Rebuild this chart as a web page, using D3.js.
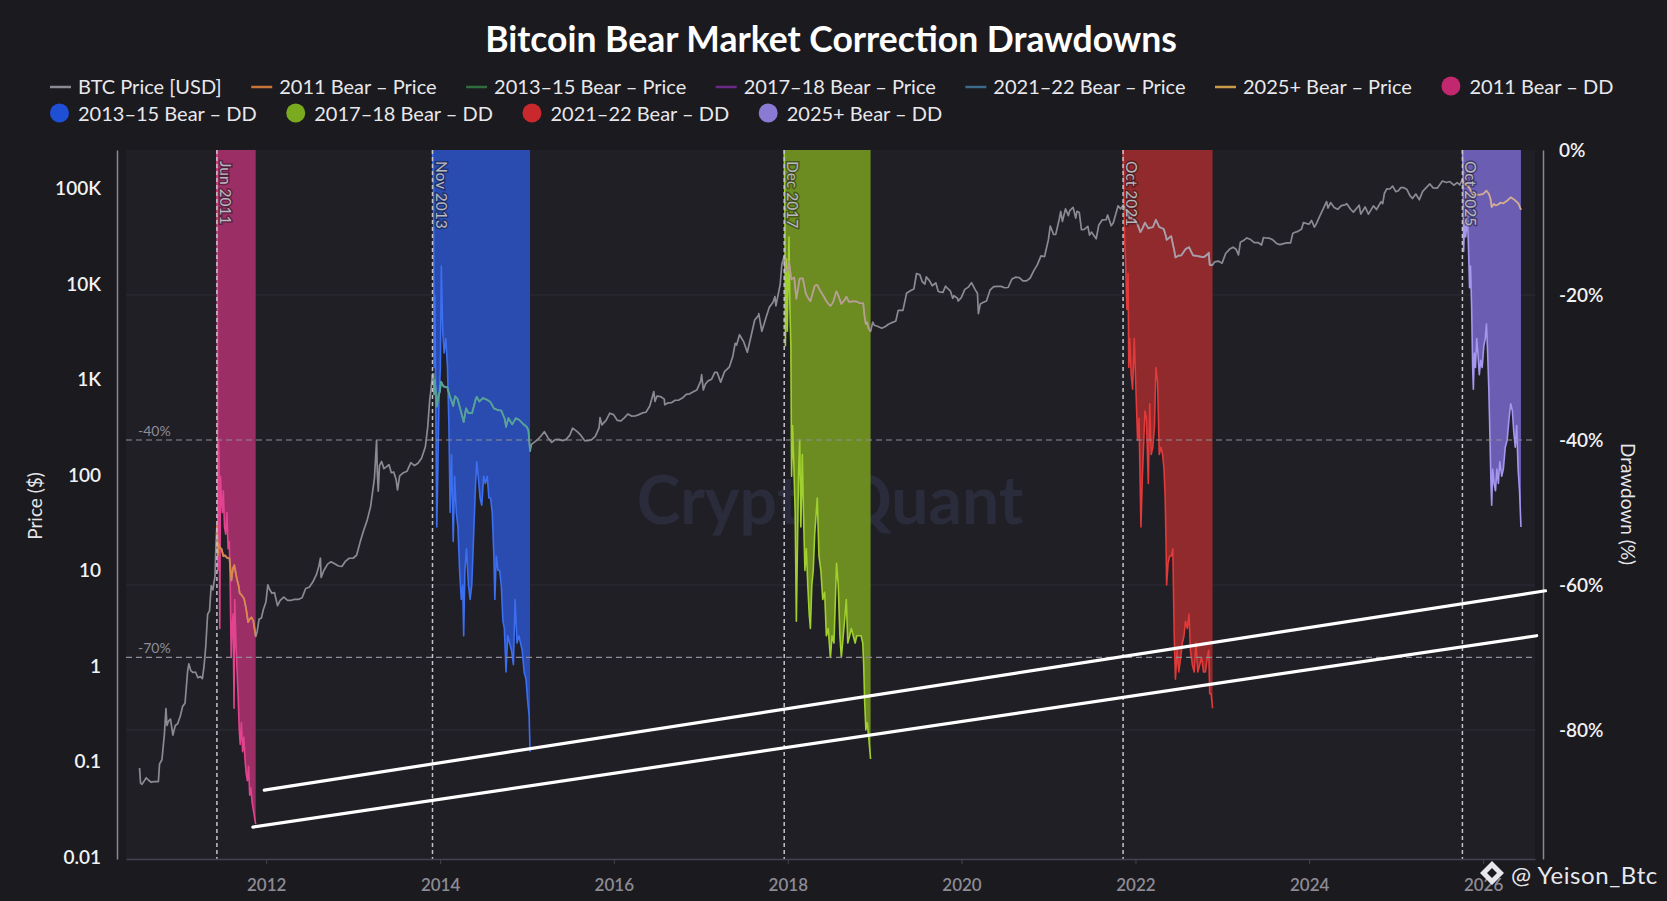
<!DOCTYPE html>
<html>
<head>
<meta charset="utf-8">
<script src="https://cdn.jsdelivr.net/npm/d3@7"></script>
<style>
  body { margin: 0; background: #1b1a1f; }
  svg text { font-family: Lato, "Open Sans", sans-serif; }
</style>
</head>
<body>
<svg id="chart" width="1667" height="901"></svg>
<script>
// BTC daily-ish close (log axis)
var btcPrice = [
  ["2010-07-18",0.086],["2010-07-22",0.06],["2010-07-28",0.058],["2010-08-05",0.062],["2010-08-15",0.068],
  ["2010-08-25",0.064],["2010-09-05",0.061],["2010-09-15",0.062],["2010-09-28",0.062],["2010-10-05",0.062],
  ["2010-10-10",0.095],["2010-10-20",0.105],["2010-10-30",0.19],["2010-11-06",0.36],["2010-11-10",0.24],
  ["2010-11-18",0.27],["2010-11-25",0.28],["2010-12-05",0.19],["2010-12-15",0.24],["2010-12-25",0.25],
  ["2011-01-05",0.30],["2011-01-15",0.38],["2011-01-25",0.41],["2011-02-05",0.89],["2011-02-10",1.06],
  ["2011-02-18",0.90],["2011-02-28",0.86],["2011-03-10",0.87],["2011-03-20",0.76],["2011-03-31",0.78],
  ["2011-04-08",0.74],["2011-04-15",1.0],["2011-04-22",1.6],["2011-04-30",3.5],["2011-05-08",3.8],
  ["2011-05-15",7.0],["2011-05-22",6.3],["2011-05-31",8.7],["2011-06-04",18.5],["2011-06-08",29.6],
  ["2011-06-10",23.0],["2011-06-12",14.5],["2011-06-15",19.2],["2011-06-20",17.5],["2011-06-28",16.8],
  ["2011-07-05",14.2],["2011-07-12",14.5],["2011-07-20",13.7],["2011-07-31",13.4],["2011-08-08",7.9],
  ["2011-08-14",10.5],["2011-08-20",11.4],["2011-08-31",8.2],["2011-09-07",7.0],["2011-09-12",5.8],
  ["2011-09-19",5.6],["2011-09-30",5.1],["2011-10-08",4.1],["2011-10-17",2.9],["2011-10-24",3.1],
  ["2011-10-31",3.25],["2011-11-08",3.0],["2011-11-18",2.05],["2011-11-24",2.3],["2011-12-02",3.1],
  ["2011-12-12",3.2],["2011-12-20",3.9],["2011-12-31",4.7],["2012-01-08",7.1],["2012-01-15",6.4],
  ["2012-01-25",5.8],["2012-02-05",5.9],["2012-02-18",4.3],["2012-02-29",4.9],["2012-03-15",5.3],
  ["2012-03-31",4.9],["2012-04-15",4.9],["2012-04-30",5.0],["2012-05-15",5.0],["2012-05-31",5.2],
  ["2012-06-15",6.5],["2012-06-30",6.7],["2012-07-15",7.6],["2012-07-31",9.2],["2012-08-10",11.3],
  ["2012-08-16",13.5],["2012-08-19",8.5],["2012-08-31",10.1],["2012-09-15",11.7],["2012-09-30",12.4],
  ["2012-10-15",11.8],["2012-10-31",11.2],["2012-11-15",11.1],["2012-11-30",12.6],["2012-12-15",13.5],
  ["2012-12-31",13.5],["2013-01-15",14.5],["2013-01-31",20.4],["2013-02-15",27],["2013-02-28",33.4],
  ["2013-03-15",47],["2013-03-31",93],["2013-04-09",230],["2013-04-12",110],["2013-04-16",68],
  ["2013-04-21",125],["2013-04-30",139],["2013-05-10",117],["2013-05-20",122],["2013-05-31",129],
  ["2013-06-10",106],["2013-06-20",108],["2013-06-30",90],["2013-07-06",70],["2013-07-15",98],
  ["2013-07-31",106],["2013-08-15",110],["2013-08-31",135],["2013-09-15",126],["2013-09-30",133],
  ["2013-10-15",150],["2013-10-31",198],["2013-11-10",320],["2013-11-18",600],["2013-11-24",800],
  ["2013-11-30",1130],["2013-12-04",1150],["2013-12-07",700],["2013-12-10",980],["2013-12-18",520],
  ["2013-12-25",680],["2013-12-31",750],["2014-01-05",950],["2014-01-15",850],["2014-01-31",830],
  ["2014-02-10",680],["2014-02-25",530],["2014-03-05",670],["2014-03-15",630],["2014-03-31",450],
  ["2014-04-10",360],["2014-04-20",500],["2014-04-30",445],["2014-05-15",445],["2014-05-31",630],
  ["2014-06-04",660],["2014-06-15",590],["2014-06-30",640],["2014-07-15",620],["2014-07-31",585],
  ["2014-08-15",500],["2014-08-31",480],["2014-09-15",475],["2014-09-30",385],["2014-10-05",320],
  ["2014-10-15",395],["2014-10-31",340],["2014-11-15",395],["2014-11-30",378],["2014-12-15",345],
  ["2014-12-31",320],["2015-01-07",295],["2015-01-14",178],["2015-01-20",210],["2015-01-31",220],
  ["2015-02-15",235],["2015-02-28",255],["2015-03-15",285],["2015-03-31",245],["2015-04-15",220],
  ["2015-04-30",236],["2015-05-15",237],["2015-05-31",230],["2015-06-15",237],["2015-06-30",262],
  ["2015-07-12",310],["2015-07-31",285],["2015-08-15",262],["2015-08-31",230],["2015-09-15",229],
  ["2015-09-30",236],["2015-10-15",255],["2015-10-31",313],["2015-11-04",400],["2015-11-12",336],
  ["2015-11-30",377],["2015-12-15",445],["2015-12-31",430],["2016-01-15",375],["2016-01-31",370],
  ["2016-02-15",400],["2016-02-29",437],["2016-03-15",415],["2016-03-31",416],["2016-04-15",430],
  ["2016-04-30",448],["2016-05-15",455],["2016-05-31",530],["2016-06-17",750],["2016-06-22",590],
  ["2016-06-30",670],["2016-07-15",665],["2016-07-31",625],["2016-08-02",545],["2016-08-15",570],
  ["2016-08-31",575],["2016-09-15",608],["2016-09-30",610],["2016-10-15",640],["2016-10-31",700],
  ["2016-11-15",710],["2016-11-30",745],["2016-12-15",780],["2016-12-31",965],["2017-01-04",1130],
  ["2017-01-11",780],["2017-01-20",900],["2017-01-31",970],["2017-02-15",1010],["2017-02-28",1190],
  ["2017-03-10",1190],["2017-03-25",940],["2017-04-10",1210],["2017-04-30",1350],["2017-05-15",1750],
  ["2017-05-25",2400],["2017-05-31",2300],["2017-06-12",2950],["2017-06-30",2480],["2017-07-15",1930],
  ["2017-07-31",2875],["2017-08-15",4200],["2017-08-31",4700],["2017-09-01",4900],["2017-09-14",3200],
  ["2017-09-30",4340],["2017-10-15",5700],["2017-10-31",6450],["2017-11-08",7400],["2017-11-12",5900],
  ["2017-11-30",9900],["2017-12-07",16000],["2017-12-17",19500],["2017-12-22",13800],["2017-12-31",14000],
  ["2018-01-06",17200],["2018-01-16",11200],["2018-01-28",11700],["2018-02-06",7000],["2018-02-20",11400],
  ["2018-03-05",11500],["2018-03-18",7900],["2018-03-31",6900],["2018-04-06",6600],["2018-04-24",9600],
  ["2018-05-05",9800],["2018-05-20",8300],["2018-05-31",7500],["2018-06-15",6450],["2018-06-29",5900],
  ["2018-07-10",6400],["2018-07-24",8400],["2018-07-31",7750],["2018-08-14",6200],["2018-08-31",7000],
  ["2018-09-04",7400],["2018-09-15",6500],["2018-09-30",6600],["2018-10-15",6600],["2018-10-31",6300],
  ["2018-11-14",6300],["2018-11-20",4500],["2018-11-25",3800],["2018-11-30",4000],["2018-12-07",3400],
  ["2018-12-15",3200],["2018-12-24",4000],["2018-12-31",3700],["2019-01-15",3600],["2019-01-31",3450],
  ["2019-02-15",3600],["2019-02-28",3800],["2019-03-15",3950],["2019-03-31",4100],["2019-04-10",5300],
  ["2019-04-30",5300],["2019-05-15",8000],["2019-05-31",8500],["2019-06-15",8900],["2019-06-26",12900],
  ["2019-07-10",12500],["2019-07-20",10600],["2019-07-31",10000],["2019-08-06",11900],["2019-08-20",10800],
  ["2019-08-31",9600],["2019-09-15",10300],["2019-09-25",8400],["2019-09-30",8300],["2019-10-15",8200],
  ["2019-10-26",9500],["2019-10-31",9200],["2019-11-15",8500],["2019-11-25",7100],["2019-11-30",7550],
  ["2019-12-15",7100],["2019-12-18",6640],["2019-12-31",7200],["2020-01-15",8800],["2020-01-31",9350],
  ["2020-02-12",10350],["2020-02-28",8700],["2020-03-08",8000],["2020-03-12",4900],["2020-03-20",6200],
  ["2020-03-31",6400],["2020-04-15",6650],["2020-04-30",8650],["2020-05-15",9400],["2020-05-31",9450],
  ["2020-06-15",9450],["2020-06-30",9150],["2020-07-15",9200],["2020-07-31",11300],["2020-08-15",11800],
  ["2020-08-31",11700],["2020-09-15",10800],["2020-09-30",10800],["2020-10-15",11500],["2020-10-31",13800],
  ["2020-11-15",16000],["2020-11-30",19700],["2020-12-15",19400],["2020-12-31",29000],["2021-01-08",40500],
  ["2021-01-22",33000],["2021-01-31",33100],["2021-02-15",48000],["2021-02-21",57500],["2021-02-28",45200],
  ["2021-03-13",61200],["2021-03-25",52000],["2021-03-31",58800],["2021-04-14",63500],["2021-04-25",49000],
  ["2021-04-30",57700],["2021-05-10",56000],["2021-05-19",37000],["2021-05-31",37300],["2021-06-15",40200],
  ["2021-06-22",32500],["2021-06-30",35000],["2021-07-20",29800],["2021-07-31",41500],["2021-08-15",47000],
  ["2021-08-31",47100],["2021-09-06",52700],["2021-09-21",40700],["2021-09-30",43800],["2021-10-20",65900],
  ["2021-10-31",61300],["2021-11-10",67500],["2021-11-20",59700],["2021-11-30",57000],["2021-12-04",49400],
  ["2021-12-15",48900],["2021-12-31",46300],["2022-01-10",41800],["2022-01-22",35000],["2022-01-31",38500],
  ["2022-02-10",44000],["2022-02-24",38300],["2022-03-05",39000],["2022-03-15",39300],["2022-03-28",47100],
  ["2022-04-11",39500],["2022-04-30",37700],["2022-05-10",31000],["2022-05-12",29000],["2022-05-31",31800],
  ["2022-06-13",22500],["2022-06-18",19000],["2022-06-30",19800],["2022-07-13",20000],["2022-07-31",23300],
  ["2022-08-14",24300],["2022-08-31",20000],["2022-09-15",19700],["2022-09-30",19400],["2022-10-15",19100],
  ["2022-10-31",20500],["2022-11-05",21300],["2022-11-09",15900],["2022-11-21",15800],["2022-11-30",17100],
  ["2022-12-15",17400],["2022-12-31",16550],["2023-01-15",20900],["2023-01-31",23100],["2023-02-15",24300],
  ["2023-02-28",23100],["2023-03-10",20200],["2023-03-18",27400],["2023-03-31",28500],["2023-04-14",30400],
  ["2023-04-30",29200],["2023-05-15",27200],["2023-05-31",27200],["2023-06-15",25600],["2023-06-23",30700],
  ["2023-06-30",30500],["2023-07-15",30300],["2023-07-31",29200],["2023-08-17",26600],["2023-08-31",25900],
  ["2023-09-15",26500],["2023-09-30",27000],["2023-10-15",27000],["2023-10-24",33900],["2023-10-31",34600],
  ["2023-11-15",35600],["2023-11-30",37700],["2023-12-08",44000],["2023-12-31",42300],["2024-01-11",46300],
  ["2024-01-23",39500],["2024-01-31",42600],["2024-02-15",51800],["2024-02-29",61200],["2024-03-14",73100],
  ["2024-03-20",62500],["2024-03-31",71300],["2024-04-15",63400],["2024-04-30",60600],["2024-05-15",66200],
  ["2024-05-31",67500],["2024-06-07",69300],["2024-06-24",60300],["2024-07-05",56600],["2024-07-29",66800],
  ["2024-08-05",54000],["2024-08-23",64100],["2024-09-06",53900],["2024-09-27",65800],["2024-10-10",60300],
  ["2024-10-29",72700],["2024-11-05",69400],["2024-11-12",88700],["2024-11-22",98900],["2024-12-05",98800],
  ["2024-12-17",106100],["2024-12-30",92700],["2025-01-10",94700],["2025-01-20",102300],["2025-01-31",102400],
  ["2025-02-15",97500],["2025-02-27",84700],["2025-03-10",78500],["2025-03-24",87500],["2025-04-08",76300],
  ["2025-04-22",93400],["2025-05-10",104000],["2025-05-22",111600],["2025-06-05",101500],["2025-06-22",100900],
  ["2025-07-14",119800],["2025-07-31",115700],["2025-08-14",118300],["2025-08-31",108300],["2025-09-14",115300],
  ["2025-09-25",109000],["2025-10-06",124700],["2025-10-10",113200],["2025-10-20",110500],["2025-11-04",101500],
  ["2025-11-21",85000],["2025-12-01",86500],["2025-12-15",86000],["2025-12-31",87500],["2026-01-08",91000],
  ["2026-01-15",95000],["2026-01-25",88000],["2026-02-01",78000],["2026-02-06",64000],["2026-02-15",69000],
  ["2026-02-23",66500],["2026-03-05",68000],["2026-03-15",71000],["2026-03-27",70000],["2026-04-10",74000],
  ["2026-04-27",81000],["2026-05-13",76000],["2026-05-29",70000],["2026-06-09",60000]
];

var bearNames = ["2011", "2013–15", "2017–18", "2021–22", "2025+"];
var bearStart = ["2011-06-08", "2013-11-30", "2017-12-17", "2021-11-10", "2025-10-06"];
var bearEnd = ["2011-11-18", "2015-01-14", "2018-12-15", "2022-11-21", "2026-06-09"];
var peakLabels = ["Jun 2011", "Nov 2013", "Dec 2017", "Oct 2021", "Oct 2025"];

// drawdown from cycle high (%)
var dd2011 = [
  ["2011-06-08",0],["2011-06-10",-22],["2011-06-12",-58],["2011-06-14",-40],["2011-06-17",-42],["2011-06-20",-66],
  ["2011-06-23",-45],["2011-06-27",-48],["2011-07-01",-50],["2011-07-05",-47],["2011-07-10",-52],["2011-07-15",-53],
  ["2011-07-20",-50],["2011-07-25",-55],["2011-07-30",-54],["2011-08-03",-60],["2011-08-07",-70],["2011-08-10",-66],
  ["2011-08-15",-64],["2011-08-19",-77],["2011-08-22",-62],["2011-08-27",-68],["2011-09-01",-72],["2011-09-06",-76],
  ["2011-09-10",-80],["2011-09-14",-82],["2011-09-19",-79],["2011-09-24",-83],["2011-09-29",-81],["2011-10-04",-84],
  ["2011-10-09",-86],["2011-10-14",-87],["2011-10-19",-85],["2011-10-24",-89],["2011-10-29",-88],["2011-11-03",-90],
  ["2011-11-08",-91],["2011-11-13",-92],["2011-11-18",-93]
];
var dd2013 = [
  ["2013-11-30",0],["2013-12-04",-5],["2013-12-07",-30],["2013-12-10",-20],["2013-12-15",-40],["2013-12-18",-52],
  ["2013-12-22",-45],["2013-12-27",-35],["2014-01-02",-30],["2014-01-06",-16],["2014-01-12",-25],["2014-01-18",-28],
  ["2014-01-25",-26],["2014-02-01",-30],["2014-02-07",-38],["2014-02-12",-50],["2014-02-18",-42],["2014-02-25",-54],
  ["2014-03-03",-45],["2014-03-10",-50],["2014-03-17",-52],["2014-03-24",-58],["2014-03-31",-62],["2014-04-06",-60],
  ["2014-04-10",-67],["2014-04-15",-58],["2014-04-22",-55],["2014-04-30",-60],["2014-05-07",-62],["2014-05-14",-60],
  ["2014-05-22",-53],["2014-05-30",-46],["2014-06-04",-43],["2014-06-10",-45],["2014-06-18",-48],["2014-06-25",-49],
  ["2014-07-03",-45],["2014-07-10",-46],["2014-07-18",-45],["2014-07-25",-48],["2014-08-01",-48],["2014-08-08",-50],
  ["2014-08-15",-56],["2014-08-19",-62],["2014-08-25",-56],["2014-09-01",-58],["2014-09-08",-58],["2014-09-15",-60],
  ["2014-09-22",-65],["2014-09-28",-66],["2014-10-05",-72],["2014-10-12",-67],["2014-10-20",-68],["2014-10-28",-69],
  ["2014-11-05",-71],["2014-11-12",-62],["2014-11-20",-68],["2014-11-28",-67],["2014-12-05",-68],["2014-12-12",-69],
  ["2014-12-20",-72],["2014-12-28",-73],["2015-01-04",-76],["2015-01-10",-78],["2015-01-14",-83]
];
var dd2017 = [
  ["2017-12-17",0],["2017-12-20",-8],["2017-12-22",-27],["2017-12-26",-15],["2017-12-30",-25],["2018-01-06",-12],
  ["2018-01-10",-22],["2018-01-14",-27],["2018-01-17",-45],["2018-01-21",-38],["2018-01-26",-43],["2018-02-01",-50],
  ["2018-02-06",-65],["2018-02-10",-56],["2018-02-15",-45],["2018-02-20",-40],["2018-02-25",-52],["2018-03-03",-42],
  ["2018-03-08",-50],["2018-03-14",-58],["2018-03-20",-55],["2018-03-26",-60],["2018-04-01",-64],["2018-04-06",-66],
  ["2018-04-12",-60],["2018-04-18",-58],["2018-04-24",-53],["2018-05-05",-48],["2018-05-12",-56],["2018-05-20",-58],
  ["2018-05-28",-62],["2018-06-05",-61],["2018-06-12",-67],["2018-06-20",-66],["2018-06-29",-70],["2018-07-06",-67],
  ["2018-07-14",-68],["2018-07-20",-62],["2018-07-25",-57],["2018-08-01",-60],["2018-08-08",-67],["2018-08-14",-70],
  ["2018-08-22",-67],["2018-08-30",-64],["2018-09-04",-62],["2018-09-10",-68],["2018-09-18",-67],["2018-09-25",-66],
  ["2018-10-03",-67],["2018-10-11",-68],["2018-10-18",-67],["2018-10-26",-67],["2018-11-05",-67],["2018-11-12",-68],
  ["2018-11-16",-71],["2018-11-20",-76],["2018-11-25",-80],["2018-12-01",-79],["2018-12-07",-81],["2018-12-15",-84]
];
var dd2021 = [
  ["2021-11-10",0],["2021-11-13",-5],["2021-11-16",-12],["2021-11-20",-15],["2021-11-26",-22],["2021-12-01",-17],
  ["2021-12-04",-30],["2021-12-08",-26],["2021-12-14",-31],["2021-12-20",-33],["2021-12-27",-26],["2022-01-03",-33],
  ["2022-01-10",-40],["2022-01-16",-37],["2022-01-22",-48],["2022-01-24",-52],["2022-01-30",-45],["2022-02-05",-40],
  ["2022-02-10",-36],["2022-02-16",-37],["2022-02-24",-46],["2022-03-02",-35],["2022-03-08",-42],["2022-03-15",-41],
  ["2022-03-22",-38],["2022-03-28",-30],["2022-04-04",-32],["2022-04-11",-42],["2022-04-18",-41],["2022-04-25",-42],
  ["2022-05-01",-44],["2022-05-06",-48],["2022-05-10",-55],["2022-05-12",-60],["2022-05-18",-57],["2022-05-25",-56],
  ["2022-06-01",-56],["2022-06-07",-55],["2022-06-13",-67],["2022-06-18",-73],["2022-06-25",-69],["2022-07-02",-72],
  ["2022-07-10",-70],["2022-07-17",-68],["2022-07-24",-67],["2022-07-30",-65],["2022-08-07",-66],["2022-08-14",-64],
  ["2022-08-20",-69],["2022-08-28",-71],["2022-09-05",-72],["2022-09-12",-68],["2022-09-20",-72],["2022-09-28",-71],
  ["2022-10-06",-70],["2022-10-14",-72],["2022-10-22",-72],["2022-10-30",-70],["2022-11-05",-69],["2022-11-09",-75],
  ["2022-11-15",-75],["2022-11-21",-77]
];
var dd2025 = [
  ["2025-10-06",0],["2025-10-09",-3],["2025-10-11",-14],["2025-10-15",-10],["2025-10-20",-12],["2025-10-27",-9],
  ["2025-11-01",-14],["2025-11-05",-19],["2025-11-09",-16],["2025-11-14",-22],["2025-11-18",-30],["2025-11-21",-33],
  ["2025-11-25",-28],["2025-11-30",-30],["2025-12-05",-26],["2025-12-10",-28],["2025-12-16",-31],["2025-12-22",-29],
  ["2025-12-28",-30],["2026-01-04",-27],["2026-01-10",-26],["2026-01-15",-24],["2026-01-20",-28],["2026-01-25",-33],
  ["2026-01-30",-40],["2026-02-03",-46],["2026-02-06",-49],["2026-02-10",-44],["2026-02-16",-46],["2026-02-22",-47],
  ["2026-02-28",-44],["2026-03-06",-46],["2026-03-12",-43],["2026-03-20",-45],["2026-03-27",-44],["2026-04-04",-41],
  ["2026-04-12",-40],["2026-04-20",-37],["2026-04-27",-35],["2026-05-04",-36],["2026-05-10",-39],["2026-05-16",-41],
  ["2026-05-22",-38],["2026-05-28",-44],["2026-06-03",-47],["2026-06-09",-52]
];
var ddSeries = [dd2011, dd2013, dd2017, dd2021, dd2025];

var priceTicks = [0.01, 0.1, 1, 10, 100, 1000, 10000, 100000];
var priceTickLabels = ["0.01", "0.1", "1", "10", "100", "1K", "10K", "100K"];
var ddTicks = [0, -20, -40, -60, -80];
var ddLevels = [-40, -70];
var yearTicks = [2012, 2014, 2016, 2018, 2020, 2022, 2024, 2026];
// hand-drawn support lines (date, drawdown %)
var trendLines = [
  [["2011-12-24", -88.3], ["2026-09-20", -60.8]],
  [["2011-11-06", -93.4], ["2026-08-14", -67.0]]
];

// styles
var ddFill = ["#9c2e66", "#2a4cb0", "#6c8c22", "#912a2c", "#6a5db2"];
var ddStroke = ["#e2438f", "#3c6ef0", "#a0d030", "#e03a3a", "#a596ee"];
var ddDot = ["#c2286f", "#1f4fd4", "#7aaa1e", "#c9282d", "#8a7ad4"];
var bearLegendColor = ["#c8753a", "#2f6e3c", "#6a2a86", "#3b6a8a", "#c89a4a"];
var bearLineColor = ["#e0864a", "#4fa59a", "#b8a08e", "#aa9ca8", "#d4ab98"];
var priceColor = "#8b8a93";

var svg = d3.select("#chart");
var W = 1667, H = 901;
var pL = 126, pR = 1535, pT = 150, pB = 859;
var parse = d3.timeParse("%Y-%m-%d");

var x = d3.scaleTime()
    .domain([parse("2010-05-22"), parse("2026-08-07")])
    .range([pL, pR]);
var yP = d3.scaleLog()
    .domain([0.0096, 253000])
    .range([pB, pT]);
var yD = d3.scaleLinear()
    .domain([-97.8, 0])
    .range([pB, pT]);

svg.append("rect").attr("width", W).attr("height", H).attr("fill", "#1b1a1f");
svg.append("rect")
    .attr("x", pL).attr("y", pT)
    .attr("width", pR - pL).attr("height", pB - pT)
    .attr("fill", "#211f26");

svg.append("defs").append("clipPath").attr("id", "plotClip")
    .append("rect")
    .attr("x", pL).attr("y", pT)
    .attr("width", pR - pL).attr("height", pB - pT);

// grid from the drawdown axis
svg.append("g").selectAll("line")
    .data(ddTicks.filter(function(d) { return d !== 0 && ddLevels.indexOf(d) < 0; }))
    .enter().append("line")
    .attr("x1", pL).attr("x2", pR)
    .attr("y1", function(d) { return yD(d); })
    .attr("y2", function(d) { return yD(d); })
    .attr("stroke", "#2d2c35")
    .attr("stroke-width", 1);

svg.append("text")
    .attr("x", 830).attr("y", 524)
    .attr("text-anchor", "middle")
    .attr("font-size", 66)
    .attr("font-weight", 700)
    .attr("fill", "#2b2c3b")
    .text("CryptoQuant");

// drawdown areas, filled from 0% down to the drawdown
var plotG = svg.append("g").attr("clip-path", "url(#plotClip)");
var ddArea = d3.area()
    .x(function(d) { return x(d.date); })
    .y0(yD(0))
    .y1(function(d) { return yD(d.v); });
var ddLine = d3.line()
    .x(function(d) { return x(d.date); })
    .y(function(d) { return yD(d.v); });

ddSeries.forEach(function(s, i) {
    var pts = s.map(function(d) { return {date: parse(d[0]), v: d[1]}; });
    plotG.append("path").datum(pts)
        .attr("d", ddArea)
        .attr("fill", ddFill[i]);
    plotG.append("path").datum(pts)
        .attr("d", ddLine)
        .attr("fill", "none")
        .attr("stroke", ddStroke[i])
        .attr("stroke-width", 1.6)
        .attr("stroke-linejoin", "round");
});

// -40% / -70% reference levels
ddLevels.forEach(function(lv) {
    svg.append("line")
        .attr("x1", pL).attr("x2", pR)
        .attr("y1", yD(lv)).attr("y2", yD(lv))
        .attr("stroke", "#8e8d96")
        .attr("stroke-width", 1.2)
        .attr("stroke-dasharray", "6,4");
    svg.append("text")
        .attr("x", pL + 12).attr("y", yD(lv) - 4)
        .attr("font-size", 14)
        .attr("fill", "#8e8d96")
        .text(lv + "%");
});

// cycle peak markers
bearStart.forEach(function(d, i) {
    var px = x(parse(d));
    svg.append("line")
        .attr("x1", px).attr("x2", px)
        .attr("y1", pT).attr("y2", pB)
        .attr("stroke", "#c4c3ca")
        .attr("stroke-width", 1.5)
        .attr("stroke-dasharray", "4,3");
    svg.append("text")
        .attr("transform", "translate(" + (px + 3) + "," + (pT + 11) + ") rotate(90)")
        .attr("font-size", 15.5)
        .attr("fill", "#b8b7be")
        .attr("stroke", "rgba(20,20,25,0.45)")
        .attr("stroke-width", 3)
        .attr("paint-order", "stroke")
        .text(peakLabels[i]);
});

// price
var prices = btcPrice.map(function(d) { return {date: parse(d[0]), v: d[1]}; });
var priceLine = d3.line()
    .x(function(d) { return x(d.date); })
    .y(function(d) { return yP(d.v); });

plotG.append("path").datum(prices)
    .attr("d", priceLine)
    .attr("fill", "none")
    .attr("stroke", priceColor)
    .attr("stroke-width", 1.7)
    .attr("stroke-linejoin", "round");

bearStart.forEach(function(d, i) {
    var a = parse(d), b = parse(bearEnd[i]);
    var seg = prices.filter(function(p) { return p.date >= a && p.date <= b; });
    plotG.append("path").datum(seg)
        .attr("d", priceLine)
        .attr("fill", "none")
        .attr("stroke", bearLineColor[i])
        .attr("stroke-width", 1.7)
        .attr("stroke-linejoin", "round");
});

// axes
var axisLeft = svg.append("g")
    .attr("transform", "translate(117,0)")
    .call(d3.axisLeft(yP)
        .tickValues(priceTicks)
        .tickFormat(function(d, i) { return priceTickLabels[i]; })
        .tickSize(0).tickSizeOuter(0).tickPadding(16));
var axisRight = svg.append("g")
    .attr("transform", "translate(1543,0)")
    .call(d3.axisRight(yD)
        .tickValues(ddTicks)
        .tickFormat(function(d) { return d + "%"; })
        .tickSize(0).tickSizeOuter(0).tickPadding(16));
[axisLeft, axisRight].forEach(function(g) {
    g.select(".domain").attr("stroke", "#8a8990").attr("stroke-width", 1.5);
    g.selectAll("text")
        .attr("font-size", 19)
        .attr("font-weight", 600)
        .attr("fill", "#f2f2f4")
        .attr("font-family", "Lato, sans-serif");
});

var axisBottom = svg.append("g")
    .attr("transform", "translate(0," + pB + ")")
    .call(d3.axisBottom(x)
        .tickValues(yearTicks.map(function(y) { return new Date(y, 0, 1); }))
        .tickFormat(d3.timeFormat("%Y"))
        .tickSize(5).tickSizeOuter(0).tickPadding(15));
axisBottom.select(".domain").attr("stroke", "#45434f").attr("stroke-width", 1.5);
axisBottom.selectAll("line").attr("stroke", "#45434f");
axisBottom.selectAll("text")
    .attr("font-size", 17)
    .attr("font-weight", 600)
    .attr("fill", "#8c8b94")
    .attr("font-family", "Lato, sans-serif");

svg.append("text")
    .attr("transform", "translate(42,506) rotate(-90)")
    .attr("text-anchor", "middle")
    .attr("font-size", 19)
    .attr("fill", "#e6e6ea")
    .text("Price ($)");
svg.append("text")
    .attr("transform", "translate(1621,504) rotate(90)")
    .attr("text-anchor", "middle")
    .attr("font-size", 19)
    .attr("fill", "#e6e6ea")
    .text("Drawdown (%)");

// annotation lines
trendLines.forEach(function(tl) {
    svg.append("line")
        .attr("x1", x(parse(tl[0][0]))).attr("y1", yD(tl[0][1]))
        .attr("x2", x(parse(tl[1][0]))).attr("y2", yD(tl[1][1]))
        .attr("stroke", "#ffffff")
        .attr("stroke-width", 3.2)
        .attr("stroke-linecap", "round");
});

// title + legend
svg.append("text")
    .attr("x", 831).attr("y", 52)
    .attr("text-anchor", "middle")
    .attr("font-size", 35.5)
    .attr("font-weight", 700)
    .attr("fill", "#ffffff")
    .text("Bitcoin Bear Market Correction Drawdowns");

var legendItems = [{label: "BTC Price [USD]", kind: "line", color: priceColor}];
bearNames.forEach(function(b, i) {
    legendItems.push({label: b + " Bear – Price", kind: "line", color: bearLegendColor[i]});
});
bearNames.forEach(function(b, i) {
    legendItems.push({label: b + " Bear – DD", kind: "dot", color: ddDot[i]});
});

var legend = svg.append("g");
var lx = 50, ly = 87;
legendItems.forEach(function(it, i) {
    if (i === 7) { lx = 50; ly = 114; }
    var g = legend.append("g").attr("transform", "translate(" + lx + "," + ly + ")");
    if (it.kind === "line") {
        g.append("line").attr("x1", 0).attr("x2", 21).attr("y1", 0).attr("y2", 0)
            .attr("stroke", it.color).attr("stroke-width", 2.5);
    } else {
        g.append("circle").attr("cx", 9.5).attr("cy", -1).attr("r", 9.5).attr("fill", it.color);
    }
    var t = g.append("text")
        .attr("x", 28).attr("y", 7)
        .attr("font-size", 20)
        .attr("fill", "#e8e8ec")
        .text(it.label);
    lx += 28 + t.node().getComputedTextLength() + 29.5;
});

// corner credit
var credit = svg.append("g").attr("transform", "translate(1492,873)");
credit.append("path")
    .attr("d", "M0,-12 L12,0 L0,12 L-12,0 Z M0,-5 L5,0 L0,5 L-5,0 Z")
    .attr("fill", "#e8e8ec")
    .attr("fill-rule", "evenodd");
svg.append("text")
    .attr("x", 1511).attr("y", 884)
    .attr("font-size", 24)
    .attr("fill", "#e8e8ec")
    .attr("letter-spacing", 0.6)
    .text("@ Yeison_Btc");
</script>
</body>
</html>
